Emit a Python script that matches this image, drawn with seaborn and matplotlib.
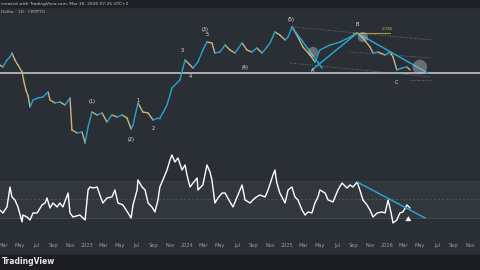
import numpy as np
import pandas as pd
import matplotlib
matplotlib.use("Agg")
import matplotlib.pyplot as plt
import matplotlib.dates as mdates
from matplotlib.ticker import FuncFormatter
import seaborn as sns

# days since 2022-01-01 and price level (index units)
price_days = [47, 58, 73, 84, 91, 102, 113, 128, 135, 142, 150, 157, 168, 186, 204, 223, 230,
              248, 266, 285, 303, 310, 329, 347, 358, 369, 383, 402, 420, 438, 456, 475, 493,
              511, 526, 533, 551, 569, 588, 606, 624, 631, 642, 657, 668, 675, 704, 723, 741,
              752, 770, 788, 803, 821, 832, 850, 869, 887, 905, 931, 949, 967, 985, 1004, 1022,
              1033, 1051, 1069, 1088, 1099, 1113, 1135, 1153, 1179, 1197, 1215, 1252, 1289,
              1325, 1351, 1372, 1398, 1409, 1427, 1453, 1471, 1482, 1496, 1515, 1533, 1544]
price_vals = [85, 83, 90, 93, 97, 90, 85, 78, 68, 60, 54, 43, 50, 52, 53, 58, 50,
              47, 48, 45, 52, 20, 17, 18, 7, 23, 38, 35, 37, 28, 35, 33, 35,
              32, 21, 25, 47, 38, 37, 30, 32, 32, 37, 45, 55, 62, 70, 90, 85,
              82, 88, 100, 108, 107, 97, 98, 105, 100, 97, 107, 100, 98, 102, 97, 103,
              107, 118, 115, 110, 113, 123, 113, 103, 95, 88, 100, 105, 108,
              113, 117, 112, 103, 97, 98, 95, 98, 93, 80, 82, 83, 80]

# oscillator (RSI style, 0-100)
osc_days = [47, 58, 73, 84, 91, 102, 113, 128, 131, 146, 157, 168, 183, 201, 212, 219, 230,
            241, 256, 266, 277, 296, 303, 314, 339, 358, 369, 376, 387, 402, 412, 423, 438,
            456, 467, 478, 496, 515, 526, 533, 548, 551, 566, 577, 588, 602, 613, 624, 631,
            642, 657, 668, 675, 686, 697, 712, 723, 730, 741, 752, 767, 770, 788, 803, 814,
            821, 832, 843, 858, 869, 887, 898, 916, 931, 942, 960, 978, 996, 1015, 1026,
            1044, 1051, 1058, 1069, 1088, 1099, 1113, 1124, 1135, 1150, 1161, 1172, 1186,
            1197, 1208, 1215, 1234, 1245, 1263, 1281, 1296, 1314, 1325, 1336, 1351, 1361,
            1372, 1387, 1398, 1409, 1424, 1442, 1453, 1464, 1475, 1482, 1496, 1507, 1518,
            1533, 1544]
osc_vals = [38.6, 35.4, 41.9, 63.5, 52.7, 49.5, 41.9, 25.7, 33.2, 31.1, 27.8, 35.4, 35.4,
            44.1, 46.2, 51.6, 40.8, 46.2, 41.9, 46.2, 41.9, 57.0, 35.4, 31.1, 33.2, 27.8,
            60.3, 63.5, 62.4, 63.5, 54.9, 46.2, 51.6, 52.7, 60.3, 46.2, 44.1, 35.4, 30.0,
            44.1, 60.3, 71.1, 63.5, 60.3, 46.2, 41.9, 36.5, 49.5, 63.5, 71.1, 81.9, 92.7,
            98.1, 90.5, 94.9, 81.9, 87.3, 76.5, 63.5, 67.8, 73.2, 60.3, 65.7, 87.3, 79.7,
            71.1, 46.2, 51.6, 57.0, 57.0, 47.3, 41.9, 54.9, 65.7, 49.5, 46.2, 51.6, 54.9,
            52.7, 60.3, 76.5, 81.9, 67.8, 57.0, 46.2, 60.3, 63.5, 52.7, 49.5, 38.6, 33.2,
            36.5, 35.4, 46.2, 52.7, 60.3, 57.0, 49.5, 47.3, 60.3, 67.8, 62.4, 65.7, 63.5,
            68.9, 60.3, 49.5, 44.1, 38.6, 31.1, 35.4, 36.5, 35.4, 49.5, 35.4, 24.6, 27.8,
            35.4, 36.5, 44.1, 40.8]

support_level = 77
wave_labels = ["(1)", "(2)", "1", "2", "3", "4", "(3)", "5", "(4)", "(5)", "A", "B", "C"]
wave_days = [383, 526, 551, 606, 712, 741, 796, 803, 942, 1110, 1190, 1351, 1493]
wave_levels = [49, 10, 50, 22, 100, 73, 121, 115, 82, 130, 79, 126, 68]

start = pd.Timestamp("2022-01-01")
bg = "#2a2e35"
teal = "#2aa3cc"
tan = "#c9b47c"

sns.set_theme(style="dark", rc={"axes.facecolor": bg, "figure.facecolor": bg})
plt.rcParams["font.family"] = ["DejaVu Sans"]


def to_date(d):
    return start + pd.to_timedelta(d, unit="D")


p_dates = to_date(np.array(price_days))
o_dates = to_date(np.array(osc_days))
xlim = (to_date(47.5), to_date(1799.5))

fig = plt.figure(figsize=(4.8, 2.7), dpi=100)
H = 270.0
ax = fig.add_axes([0, (H - 150) / H, 1, 142 / H])
ax2 = fig.add_axes([0, (H - 241) / H, 1, 91 / H], sharex=ax)

# price line, coloured by direction
rows = []
for i in range(len(price_vals) - 1):
    d = "up" if price_vals[i + 1] >= price_vals[i] else "down"
    rows.append({"seg": i, "date": p_dates[i], "price": price_vals[i], "dir": d})
    rows.append({"seg": i, "date": p_dates[i + 1], "price": price_vals[i + 1], "dir": d})
seg_df = pd.DataFrame(rows)
sns.lineplot(data=seg_df, x="date", y="price", hue="dir", units="seg", estimator=None,
             palette={"up": teal, "down": tan}, lw=1, legend=False, sort=False, ax=ax)

ax.axhline(support_level, color="#b4b7bc", lw=1.3, zorder=1)

# trend lines / channels
def seg(a, d0, v0, d1, v1, **kw):
    a.plot([to_date(d0), to_date(d1)], [v0, v1], **kw)

seg(ax, 1113, 123, 1223, 82, color=teal, lw=1.1)
seg(ax, 1186, 80, 1351, 117, color=teal, lw=1.1)
seg(ax, 1351, 117, 1609, 77, color=teal, lw=1.1)
for d0, v0, d1, v1 in [(1117, 123, 1624, 110), (1325, 98, 1624, 92), (1106, 87, 1624, 73), (1544, 70, 1624, 70)]:
    seg(ax, d0, v0, d1, v1, color="#8a8d92", lw=0.6, ls=(0, (1, 2)))
seg(ax, 1336, 117, 1471, 117, color="#a89a4a", lw=0.8)
ax.text(to_date(1440), 118.5, "0.786", color="#c9b84a", fontsize=2.8, va="bottom")
ax.scatter([to_date(1190), to_date(1372), to_date(1580)], [98, 113, 83], s=[55, 55, 110],
           color="#b8bcc2", alpha=0.45, lw=0, zorder=5)

for lab, d, v in zip(wave_labels, wave_days, wave_levels):
    ax.text(to_date(d), v, lab, color="#e8e8e8", fontsize=3.6, ha="center", va="center")

ax.set_ylim(0, 142)
ax.set_xlim(*xlim)
ax.set_xlabel("")
ax.set_ylabel("")
ax.tick_params(left=False, labelleft=False, bottom=False, labelbottom=False)
for s in ax.spines.values():
    s.set_visible(False)

# oscillator
ax2.axhspan(30, 70, color="#32363d", lw=0, zorder=0)
ax2.axhline(50, color="#5a5e65", lw=0.5, ls=(0, (3, 3)), zorder=1)
ax2.axhline(30, color="#4a4e55", lw=0.6, zorder=1)
ax2.axhline(70, color="#3d4148", lw=0.5, zorder=1)

ox = mdates.date2num(o_dates)
ov = np.array(osc_vals)
poly = ax2.fill_between(ox, 70, ov, where=ov > 70, interpolate=True, facecolor="none", lw=0)
grad = np.linspace(1, 0, 100).reshape(-1, 1)
im = ax2.imshow(grad, extent=[ox[0], ox[-1], 70, 100], aspect="auto", cmap="gray",
                vmin=-0.3, vmax=1.1, alpha=0.9, zorder=2, origin="upper")
im.set_clip_path(poly.get_paths()[0], transform=ax2.transData)

sns.lineplot(x=o_dates, y=osc_vals, color="white", lw=1, ax=ax2, zorder=3)
seg(ax2, 1351, 68.9, 1599, 30.0, color=teal, lw=1.1, zorder=4)
ax2.annotate("", xy=(to_date(1538), 35), xytext=(to_date(1538), 28),
             arrowprops=dict(arrowstyle="simple,head_width=0.35,head_length=0.3,tail_width=0.15",
                             color="white", lw=0), zorder=5)

ax2.set_ylim(5.1, 103.5)
ax2.set_xlim(*xlim)
ax2.set_xlabel("")
ax2.set_ylabel("")
ax2.xaxis.set_major_locator(mdates.MonthLocator(bymonth=[1, 3, 5, 7, 9, 11]))
ax2.xaxis.set_major_formatter(FuncFormatter(
    lambda x, pos: mdates.num2date(x).strftime("%Y") if mdates.num2date(x).month == 1
    else mdates.num2date(x).strftime("%b")))
ax2.tick_params(left=False, labelleft=False, bottom=False, labelbottom=True,
                labelsize=3.6, colors="#9a9da2", pad=-4.5)
for s in ax2.spines.values():
    s.set_visible(False)

# header / footer strips
fig.patches.append(plt.Rectangle((0, 1 - 7 / H), 1, 7 / H, transform=fig.transFigure,
                                 color="#1f2125", zorder=0))
fig.patches.append(plt.Rectangle((0, 0), 1, 15 / H, transform=fig.transFigure,
                                 color="#1c1d20", zorder=0))
fig.text(0.003, 1 - 3.5 / H, "created with TradingView.com, Mar 30, 2026 07:25 UTC+2",
         color="#c8c8c8", fontsize=3.2, va="center")
fig.text(0.003, 1 - 12 / H, "Dollar · 1D · CRYPTO", color="#b8b8b8", fontsize=3.2, va="center")
fig.text(0.003, 8 / H, "TradingView", color="#e6e6e6", fontsize=5.5, fontweight="bold", va="center")

fig.savefig("out.png", dpi=100, facecolor=bg)
